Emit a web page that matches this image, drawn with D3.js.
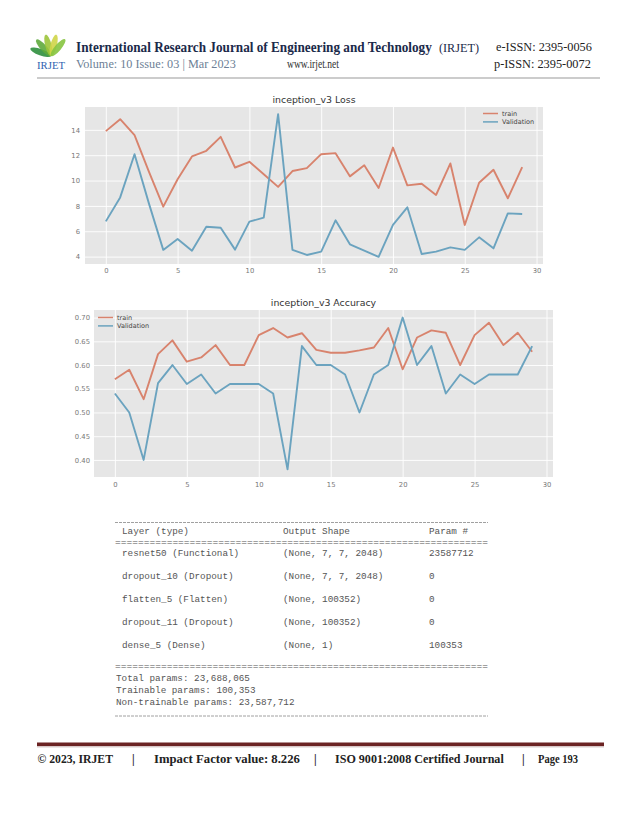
<!DOCTYPE html>
<html><head><meta charset="utf-8">
<script src="https://cdn.jsdelivr.net/npm/d3@7"></script>
<style>body{margin:0;background:#fff}svg{display:block}</style>
</head><body><svg id="c" width="638" height="826"></svg>
<script>
// ---------- data ----------
const epochs = [0,1,2,3,4,5,6,7,8,9,10,11,12,13,14,15,16,17,18,19,20,21,22,23,24,25,26,27,28,29];
const lossTrain = [13.9,14.84,13.58,10.7,7.94,10.1,11.9,12.35,13.45,11.03,11.48,10.5,9.5,10.75,10.98,12.08,12.16,10.33,11.2,9.41,12.6,9.62,9.75,8.86,11.35,6.5,9.83,10.85,8.6,11.06];
const lossVal = [6.78,8.67,12.08,8.2,4.53,5.39,4.47,6.36,6.28,4.55,6.76,7.07,15.24,4.53,4.13,4.39,6.86,4.97,4.47,3.98,6.5,7.89,4.21,4.39,4.73,4.53,5.52,4.65,7.41,7.36];
const accTrain = [0.570,0.590,0.528,0.623,0.652,0.607,0.616,0.642,0.600,0.600,0.663,0.678,0.658,0.667,0.632,0.626,0.626,0.631,0.637,0.678,0.591,0.658,0.673,0.668,0.600,0.663,0.689,0.642,0.668,0.628];
const accVal = [0.540,0.500,0.400,0.562,0.600,0.560,0.580,0.540,0.560,0.560,0.560,0.540,0.380,0.640,0.600,0.600,0.580,0.500,0.580,0.600,0.700,0.600,0.640,0.540,0.580,0.560,0.580,0.580,0.580,0.640];
const xTicks = [0,5,10,15,20,25,30];
const lossTicks = [4,6,8,10,12,14];
const accTicks = [0.40,0.45,0.50,0.55,0.60,0.65,0.70];
const seriesNames = ["train","Validation"];
const chartTitles = ["inception_v3 Loss","inception_v3 Accuracy"];

const tableHeader = ["Layer (type)","Output Shape","Param #"];
const tableLayers = ["resnet50 (Functional)","dropout_10 (Dropout)","flatten_5 (Flatten)","dropout_11 (Dropout)","dense_5 (Dense)"];
const tableShapes = ["(None, 7, 7, 2048)","(None, 7, 7, 2048)","(None, 100352)","(None, 100352)","(None, 1)"];
const tableParams = ["23587712","0","0","0","100353"];
const summaryLines = ["Total params: 23,688,065","Trainable params: 100,353","Non-trainable params: 23,587,712"];

const headerTitle = "International Research Journal of Engineering and Technology";
const headerAbbr = "(IRJET)";
const headerEissn = "e-ISSN: 2395-0056";
const headerVolume = "Volume: 10 Issue: 03 | Mar 2023";
const headerWeb = "www.irjet.net";
const headerPissn = "p-ISSN: 2395-0072";
const footerParts = ["© 2023, IRJET","|","Impact Factor value: 8.226","|","ISO 9001:2008 Certified Journal","|","Page 193"];

// ---------- drawing ----------
const svg = d3.select("#c");
const colTrain = "#d8836d", colVal = "#6ba3bf";

// fits a text to a target width by horizontal scaling (keeps glyph height)
function fitText(parent, str, x, y, w, attrs){
  const t = parent.append("text").attr("x",0).attr("y",0).text(str);
  Object.entries(attrs).forEach(([k,v])=>t.attr(k,v));
  const len = t.node().getComputedTextLength();
  const s = w ? w/len : 1;
  t.attr("transform",`translate(${x},${y}) scale(${s},1)`);
  return t;
}

// header
const hdr = svg.append("g");
const leafCols = ["#2f8f3e","#5eaa3c","#9cc43a","#cfd548","#86c440"];
const leafAngles = [-70,-42,-14,14,40];
leafAngles.forEach((a,i)=>{
  hdr.append("ellipse").attr("cx",0).attr("cy",-11).attr("rx",3.2).attr("ry",11)
    .attr("fill",leafCols[i]).attr("opacity",0.9)
    .attr("transform",`translate(51,56) rotate(${a})`);
});
const serif = {"font-family":"Liberation Serif"};
fitText(hdr,"IRJET",37,69,28,{...serif,"font-size":10.5,fill:"#2d62b0"});
fitText(hdr,headerTitle,76,52,356,{...serif,"font-weight":"bold","font-size":14,fill:"#1b2a4a"});
fitText(hdr,headerAbbr,439,52,40,{...serif,"font-size":13,fill:"#1b2a4a"});
fitText(hdr,headerEissn,496,51,96,{...serif,"font-size":11.5,fill:"#222"});
fitText(hdr,headerVolume,76,68,160,{...serif,"font-size":11.5,fill:"#6d7f96"});
fitText(hdr,headerWeb,287,68,52,{...serif,"font-size":11.5,fill:"#333"});
fitText(hdr,headerPissn,494,68,97,{...serif,"font-size":11.5,fill:"#222"});
hdr.append("line").attr("x1",37).attr("x2",600).attr("y1",78).attr("y2",78).attr("stroke","#999").attr("stroke-width",1);

function drawChart(cfg){
  const g = svg.append("g");
  const x = d3.scaleLinear().domain([-1.45,30.45]).range([cfg.left,cfg.right]);
  const ext = d3.extent(cfg.series.flat());
  const pad = (ext[1]-ext[0])*0.05;
  const y = d3.scaleLinear().domain([ext[0]-pad,ext[1]+pad]).range([cfg.bottom,cfg.top]);
  g.append("rect").attr("x",cfg.left).attr("y",cfg.top).attr("width",cfg.right-cfg.left)
    .attr("height",cfg.bottom-cfg.top).attr("fill","#e6e6e6");
  g.append("g").attr("transform",`translate(0,${cfg.bottom})`)
    .call(d3.axisBottom(x).tickValues(xTicks).tickSize(-(cfg.bottom-cfg.top)).tickFormat(""))
    .call(s=>{s.select(".domain").remove();s.selectAll("line").attr("stroke","#fff").attr("stroke-width",0.9);});
  g.append("g").attr("transform",`translate(${cfg.left},0)`)
    .call(d3.axisLeft(y).tickValues(cfg.yTicks).tickSize(-(cfg.right-cfg.left)).tickFormat(""))
    .call(s=>{s.select(".domain").remove();s.selectAll("line").attr("stroke","#fff").attr("stroke-width",0.9);});
  g.append("g").attr("transform",`translate(0,${cfg.bottom})`)
    .call(d3.axisBottom(x).tickValues(xTicks).tickSize(0).tickPadding(cfg.xPad))
    .call(s=>{s.select(".domain").remove();s.selectAll("text").attr("fill","#777").attr("font-size",6.8).attr("font-family","DejaVu Sans");});
  g.append("g").attr("transform",`translate(${cfg.left},0)`)
    .call(d3.axisLeft(y).tickValues(cfg.yTicks).tickSize(0).tickPadding(cfg.yPad).tickFormat(cfg.fmt))
    .call(s=>{s.select(".domain").remove();s.selectAll("text").attr("fill","#777").attr("font-size",6.8).attr("font-family","DejaVu Sans");});
  const line = d3.line().x((d,i)=>x(epochs[i])).y(d=>y(d));
  [colTrain,colVal].forEach((c,k)=>{
    g.append("path").datum(cfg.series[k]).attr("d",line).attr("fill","none")
      .attr("stroke",c).attr("stroke-width",1.9).attr("stroke-linejoin","round");
  });
  g.append("text").attr("x",(cfg.left+cfg.right)/2).attr("y",cfg.titleY).attr("text-anchor","middle")
    .attr("font-family","DejaVu Sans").attr("font-size",9.4).attr("fill","#333").text(cfg.title);
  seriesNames.forEach((n,k)=>{
    const ly = cfg.legY + k*8.4;
    g.append("line").attr("x1",cfg.legX).attr("x2",cfg.legX+15).attr("y1",ly).attr("y2",ly)
      .attr("stroke",[colTrain,colVal][k]).attr("stroke-width",1.5);
    g.append("text").attr("x",cfg.legX+19).attr("y",ly+2.3).attr("font-family","DejaVu Sans")
      .attr("font-size",6.5).attr("fill","#444").text(n);
  });
}

drawChart({left:85,right:543,top:107,bottom:264,series:[lossTrain,lossVal],yTicks:lossTicks,
  fmt:d3.format("d"),title:chartTitles[0],titleY:103,legX:483,legY:113.5,xPad:4,yPad:5});
drawChart({left:94,right:553,top:310,bottom:477,series:[accTrain,accVal],yTicks:accTicks,
  fmt:d3.format(".2f"),title:chartTitles[1],titleY:306,legX:98,legY:317.5,xPad:5,yPad:4});

// table (model summary)
const tb = svg.append("g").attr("font-family","Liberation Mono").attr("font-size",9.3).attr("fill","#555");
const colX = [122,283,429];
tb.append("line").attr("x1",115).attr("x2",488).attr("y1",522.5).attr("y2",522.5).attr("stroke","#888").attr("stroke-width",0.8).attr("stroke-dasharray","3,1");
tableHeader.forEach((h,i)=>tb.append("text").attr("x",colX[i]).attr("y",534).text(h));
const eqLine = "=".repeat(65);
tb.append("text").attr("x",115).attr("y",545).attr("textLength",373).attr("lengthAdjust","spacingAndGlyphs").text(eqLine);
const rowY = d3.scaleLinear().domain([0,4]).range([556,648]);
tableLayers.forEach((l,i)=>{
  tb.append("text").attr("x",colX[0]).attr("y",rowY(i)).text(l);
  tb.append("text").attr("x",colX[1]).attr("y",rowY(i)).text(tableShapes[i]);
  tb.append("text").attr("x",colX[2]).attr("y",rowY(i)).text(tableParams[i]);
});
tb.append("text").attr("x",115).attr("y",669).attr("textLength",373).attr("lengthAdjust","spacingAndGlyphs").text(eqLine);
summaryLines.forEach((s,i)=>tb.append("text").attr("x",116).attr("y",681+i*12).text(s));
tb.append("line").attr("x1",115).attr("x2",488).attr("y1",716).attr("y2",716).attr("stroke","#888").attr("stroke-width",0.8).attr("stroke-dasharray","3,1");

// footer
const ft = svg.append("g");
ft.append("rect").attr("x",37).attr("y",742.5).attr("width",567).attr("height",3.5).attr("fill","#6b2323");
ft.append("line").attr("x1",37).attr("x2",604).attr("y1",746.8).attr("y2",746.8).attr("stroke","#b89a9a").attr("stroke-width",0.8);
const footX = [37.5,132,154,314,335,522,538];
const footW = [75.5,0,146,0,169,0,40];
footerParts.forEach((t,i)=>{
  fitText(ft,t,footX[i],763,footW[i],{...serif,"font-weight":"bold","font-size":12,fill:"#222"});
});
</script></body></html>
